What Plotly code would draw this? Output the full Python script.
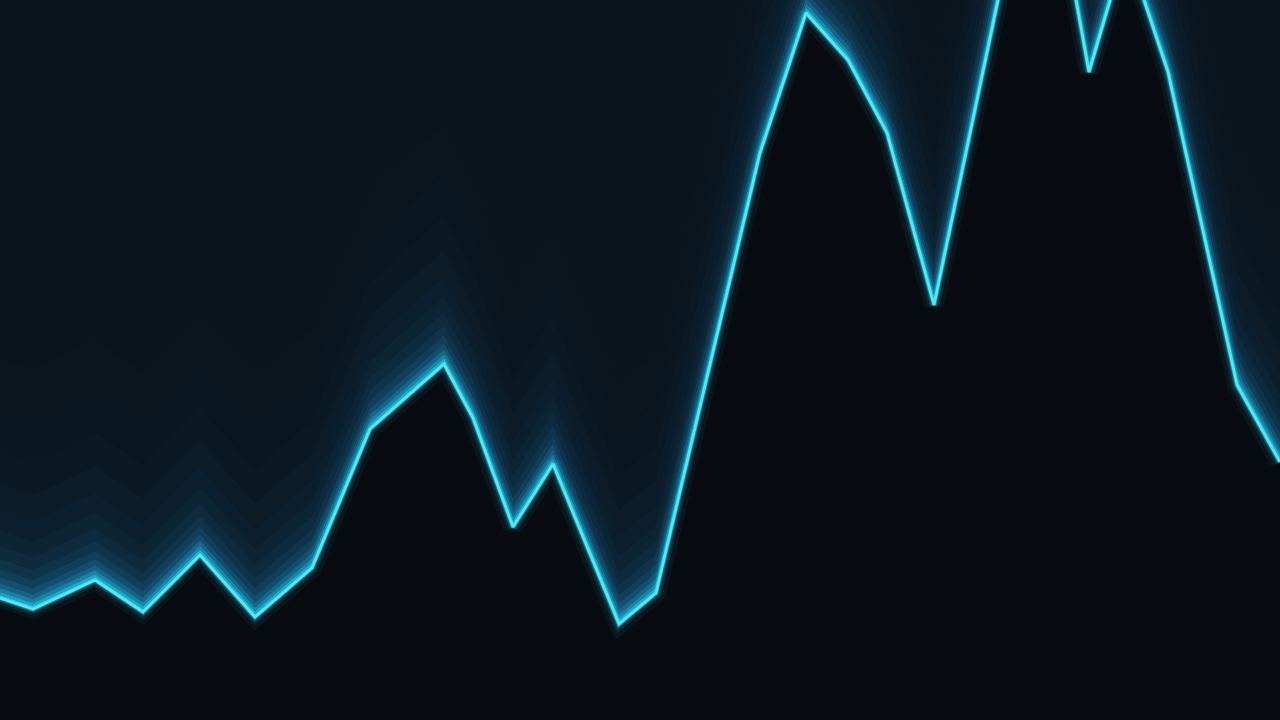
import plotly.graph_objects as go

# time positions and series values
t = [0, 33, 95, 143, 200, 255, 312, 370, 444, 473, 513, 553, 619, 656,
     760, 806, 848, 887, 934, 1040, 1089, 1126, 1168, 1237, 1280]
values = [122, 111, 140, 108, 165, 103, 152, 291, 356, 302, 193, 256, 96, 127,
          567, 707, 660, 587, 415, 920, 648, 774, 648, 335, 258]

fig = go.Figure()

# dark area under the line
fig.add_trace(go.Scatter(x=t, y=values, mode="lines", line=dict(width=0, color="#0a0f15"),
                         fill="tozeroy", fillcolor="#080c12", hoverinfo="skip"))

# haze above the line: stacked bands (offset, colour)
offsets = [0, 3, 6, 10, 15, 21, 29, 39, 52, 68, 88, 114, 148, 190, 240]
alphas = [0.95, 0.82, 0.68, 0.55, 0.44, 0.35, 0.27, 0.21, 0.16, 0.12, 0.085, 0.06, 0.04, 0.02]
reds = [45, 42, 38, 35, 32, 30, 28, 27, 26, 25, 24, 24, 24, 24]
greens = [195, 185, 172, 160, 150, 142, 135, 128, 122, 118, 115, 112, 110, 110]
blues = [232, 228, 222, 218, 214, 210, 205, 200, 195, 190, 185, 180, 178, 178]
fig.add_trace(go.Scatter(x=t, y=values, mode="lines", line=dict(width=0),
                         hoverinfo="skip"))
for k in range(1, len(offsets)):
    c = f"rgba({reds[k-1]},{greens[k-1]},{blues[k-1]},{alphas[k-1]})"
    fig.add_trace(go.Scatter(
        x=t, y=[v + offsets[k] for v in values], mode="lines", line=dict(width=0),
        fill="tonexty", fillcolor=c, hoverinfo="skip"))

# line glow
for w, a in [(20, 0.05), (12, 0.10), (7, 0.22), (4.5, 0.5)]:
    fig.add_trace(go.Scatter(x=t, y=values, mode="lines",
                             line=dict(width=w, color=f"rgba(40,210,240,{a})"),
                             hoverinfo="skip"))
fig.add_trace(go.Scatter(x=t, y=values, mode="lines",
                         line=dict(width=2.8, color="#4eeaf6"), hoverinfo="skip"))

fig.update_layout(
    width=1280, height=720, margin=dict(l=0, r=0, t=0, b=0),
    paper_bgcolor="#0b141b", plot_bgcolor="#0b141b", showlegend=False,
    xaxis=dict(range=[0, 1280], visible=False, fixedrange=True),
    yaxis=dict(range=[0, 720], visible=False, fixedrange=True),
)
fig.write_html("out.html", config={"displayModeBar": False},
               post_script="document.body.style.margin='0';document.body.style.background='#0b141b';")
